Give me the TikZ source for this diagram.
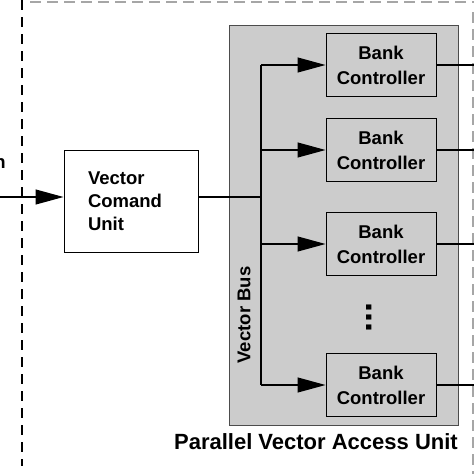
\documentclass[tikz,border=0pt]{standalone}
\usepackage{fontspec}
\setmainfont{Liberation Sans}
\usetikzlibrary{arrows.meta, positioning}

\tikzset{
  unit/.style={draw, line width=1pt, fill=white, inner sep=0pt},
  bank/.style={unit, fill=gray!40, minimum width=110pt, minimum height=63pt, align=center,
    font=\bfseries\fontsize{18.5}{25}\selectfont},
  wire/.style={line width=1.1pt},
  bigarrow/.style={wire, -{Triangle[length=28pt, width=15pt]}},
}

\begin{document}
\begin{tikzpicture}[x=1pt, y=-1pt]
    \useasboundingbox (0,0) rectangle (474,474);
    %
    % borders
    \draw [line width=1.6pt, dash pattern=on 10pt off 7pt] (22,0) -- (22,466);
    \draw [gray!70, line width=2pt, dash pattern=on 11pt off 6pt] (30,2) -- (474,2);
    \draw [gray!70, line width=2pt, dash pattern=on 11pt off 6pt] (473,12) -- (473,474);
    %
    \node [anchor=base east, inner sep=0pt, font=\bfseries\fontsize{18.5}{23}\selectfont] (cut) at (6,168) {n};
    \coordinate (in) at (0,197);
    \node [unit, minimum height=102pt, text width=86pt, inner xsep=24pt, align=left,
      font=\bfseries\fontsize{18.5}{23}\selectfont] (vcu) at (131,201) {Vector\\Comand\\Unit};
    %
    % parallel vector access unit
    \node [draw, line width=0.8pt, draw=black!70, fill=gray!40, minimum width=229pt,
      minimum height=400pt, inner sep=0pt] (pvau) at (343.5,225) {};
    \node [anchor=base east, inner sep=0pt, font=\bfseries\fontsize{22}{26}\selectfont]
      (pvaulabel) at (458,449) {Parallel Vector Access Unit};
    %
    \node [bank] (b1) at (381,65) {Bank\\Controller};
    \node [bank] (b2) at (381,150) {Bank\\Controller};
    \node [bank] (b3) at (381,244) {Bank\\Controller};
    \node [bank] (b4) at (381,385) {Bank\\Controller};
    \node [rotate=-90, inner sep=0pt, font=\bfseries\fontsize{36}{36}\selectfont]
      (dots) at (369,317) {...};
    %
    \coordinate (bus) at (261,0);
    \coordinate (edge) at (474,0);
    \node [rotate=90, inner sep=0pt, font=\bfseries\fontsize{18.5}{22}\selectfont]
      (buslabel) at (244,315) {Vector Bus};
    %
    \draw [bigarrow] (in) -- (in -| vcu.west);
    \draw [wire] (vcu.east |- in) -- (bus |- in);
    \draw [wire] (bus |- b1) -- (bus |- b4);
    \foreach \b in {b1, b2, b3, b4} {
      \draw [bigarrow] (bus |- \b) -- (\b.west);
      \draw [wire] (\b.east) -- (\b.east -| edge);
    }
\end{tikzpicture}
\end{document}
